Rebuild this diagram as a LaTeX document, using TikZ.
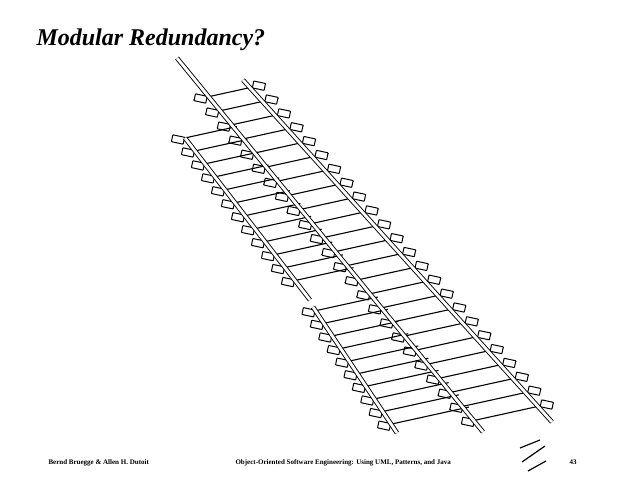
\documentclass[tikz,border=0pt]{standalone}
\usepackage{fontspec}
\setmainfont{Liberation Serif}
\begin{document}
\begin{tikzpicture}[x=1pt,y=-1pt,
  rail/.style={line width=0.9pt,double=white,double distance=2.8pt},
  tie/.style={line width=1.1pt},
  plate/.style={draw,fill=white,line width=1pt,minimum width=12pt,minimum height=7pt,inner sep=0pt,rotate=-12,rounded corners=0.5pt},
  foot/.style={font=\bfseries\fontsize{7}{8}\selectfont,anchor=base west}]
\useasboundingbox (0,0) rectangle (638,478);
\node[font=\bfseries\itshape\fontsize{24}{27}\selectfont,anchor=base west] (title) at (33,46) {Modular Redundancy?};
% track A ties (between rail L1 and rail R)
\foreach \t in {0.10,0.138,...,0.99}{
  \pgfmathsetmacro{\px}{177+306*\t}\pgfmathsetmacro{\py}{60+370*\t}
  \pgfmathsetmacro{\u}{40+23.4*\t}
  \draw[tie] (\px-14,\py+3) -- ++(\u+30,-0.22*\u-6.6);
  \node[plate] at (\px-7,\py+1.5) {};
  \node[plate] at (\px+\u+9,\py-0.22*\u-2) {};
}
% track B upper ties
\foreach \t in {0.0,0.08,...,0.95}{
  \pgfmathsetmacro{\px}{185+125*\t}\pgfmathsetmacro{\py}{138+162*\t}
  \pgfmathsetmacro{\u}{47.8+7.6*\t}
  \draw[tie] (\px-12,\py+2.6) -- ++(\u+16,-0.22*\u-3.5);
  \node[plate] at (\px-7,\py+1.5) {};
}
% track B lower ties
\foreach \t in {0.03,0.13,...,0.99}{
  \pgfmathsetmacro{\px}{313+84*\t}\pgfmathsetmacro{\py}{307+126*\t}
  \pgfmathsetmacro{\u}{57.8+17.1*\t}
  \draw[tie] (\px-12,\py+2.6) -- ++(\u+16,-0.22*\u-3.5);
  \node[plate] at (\px-7,\py+1.5) {};
}
% rails
\coordinate (l1a) at (177,58); \coordinate (l1b) at (483,432);
\coordinate (ra) at (243,80); \coordinate (rb) at (552,422);
\coordinate (lba) at (185,138); \coordinate (lbb) at (310,300);
\coordinate (lca) at (313,307); \coordinate (lcb) at (397,433);
\draw[rail] (l1a) -- (l1b);
\draw[rail] (ra) -- (rb);
\draw[rail] (lba) -- (lbb);
\draw[rail] (lca) -- (lcb);
% loose strokes near the corner
\coordinate (s1a) at (520,448); \coordinate (s1b) at (540,440);
\coordinate (s2a) at (522,462); \coordinate (s2b) at (545,446);
\coordinate (s3a) at (528,471); \coordinate (s3b) at (546,461);
\draw[line width=1.2pt] (s1a) -- (s1b);
\draw[line width=1.2pt] (s2a) -- (s2b);
\draw[line width=1.2pt] (s3a) -- (s3b);
% footer
\node[foot] (f1) at (45,465) {Bernd Bruegge \& Allen H. Dutoit};
\node[foot] (f2) at (232,465) {Object-Oriented Software Engineering: Using UML, Patterns, and Java};
\node[foot] (f3) at (566,465) {43};
\end{tikzpicture}
\end{document}
